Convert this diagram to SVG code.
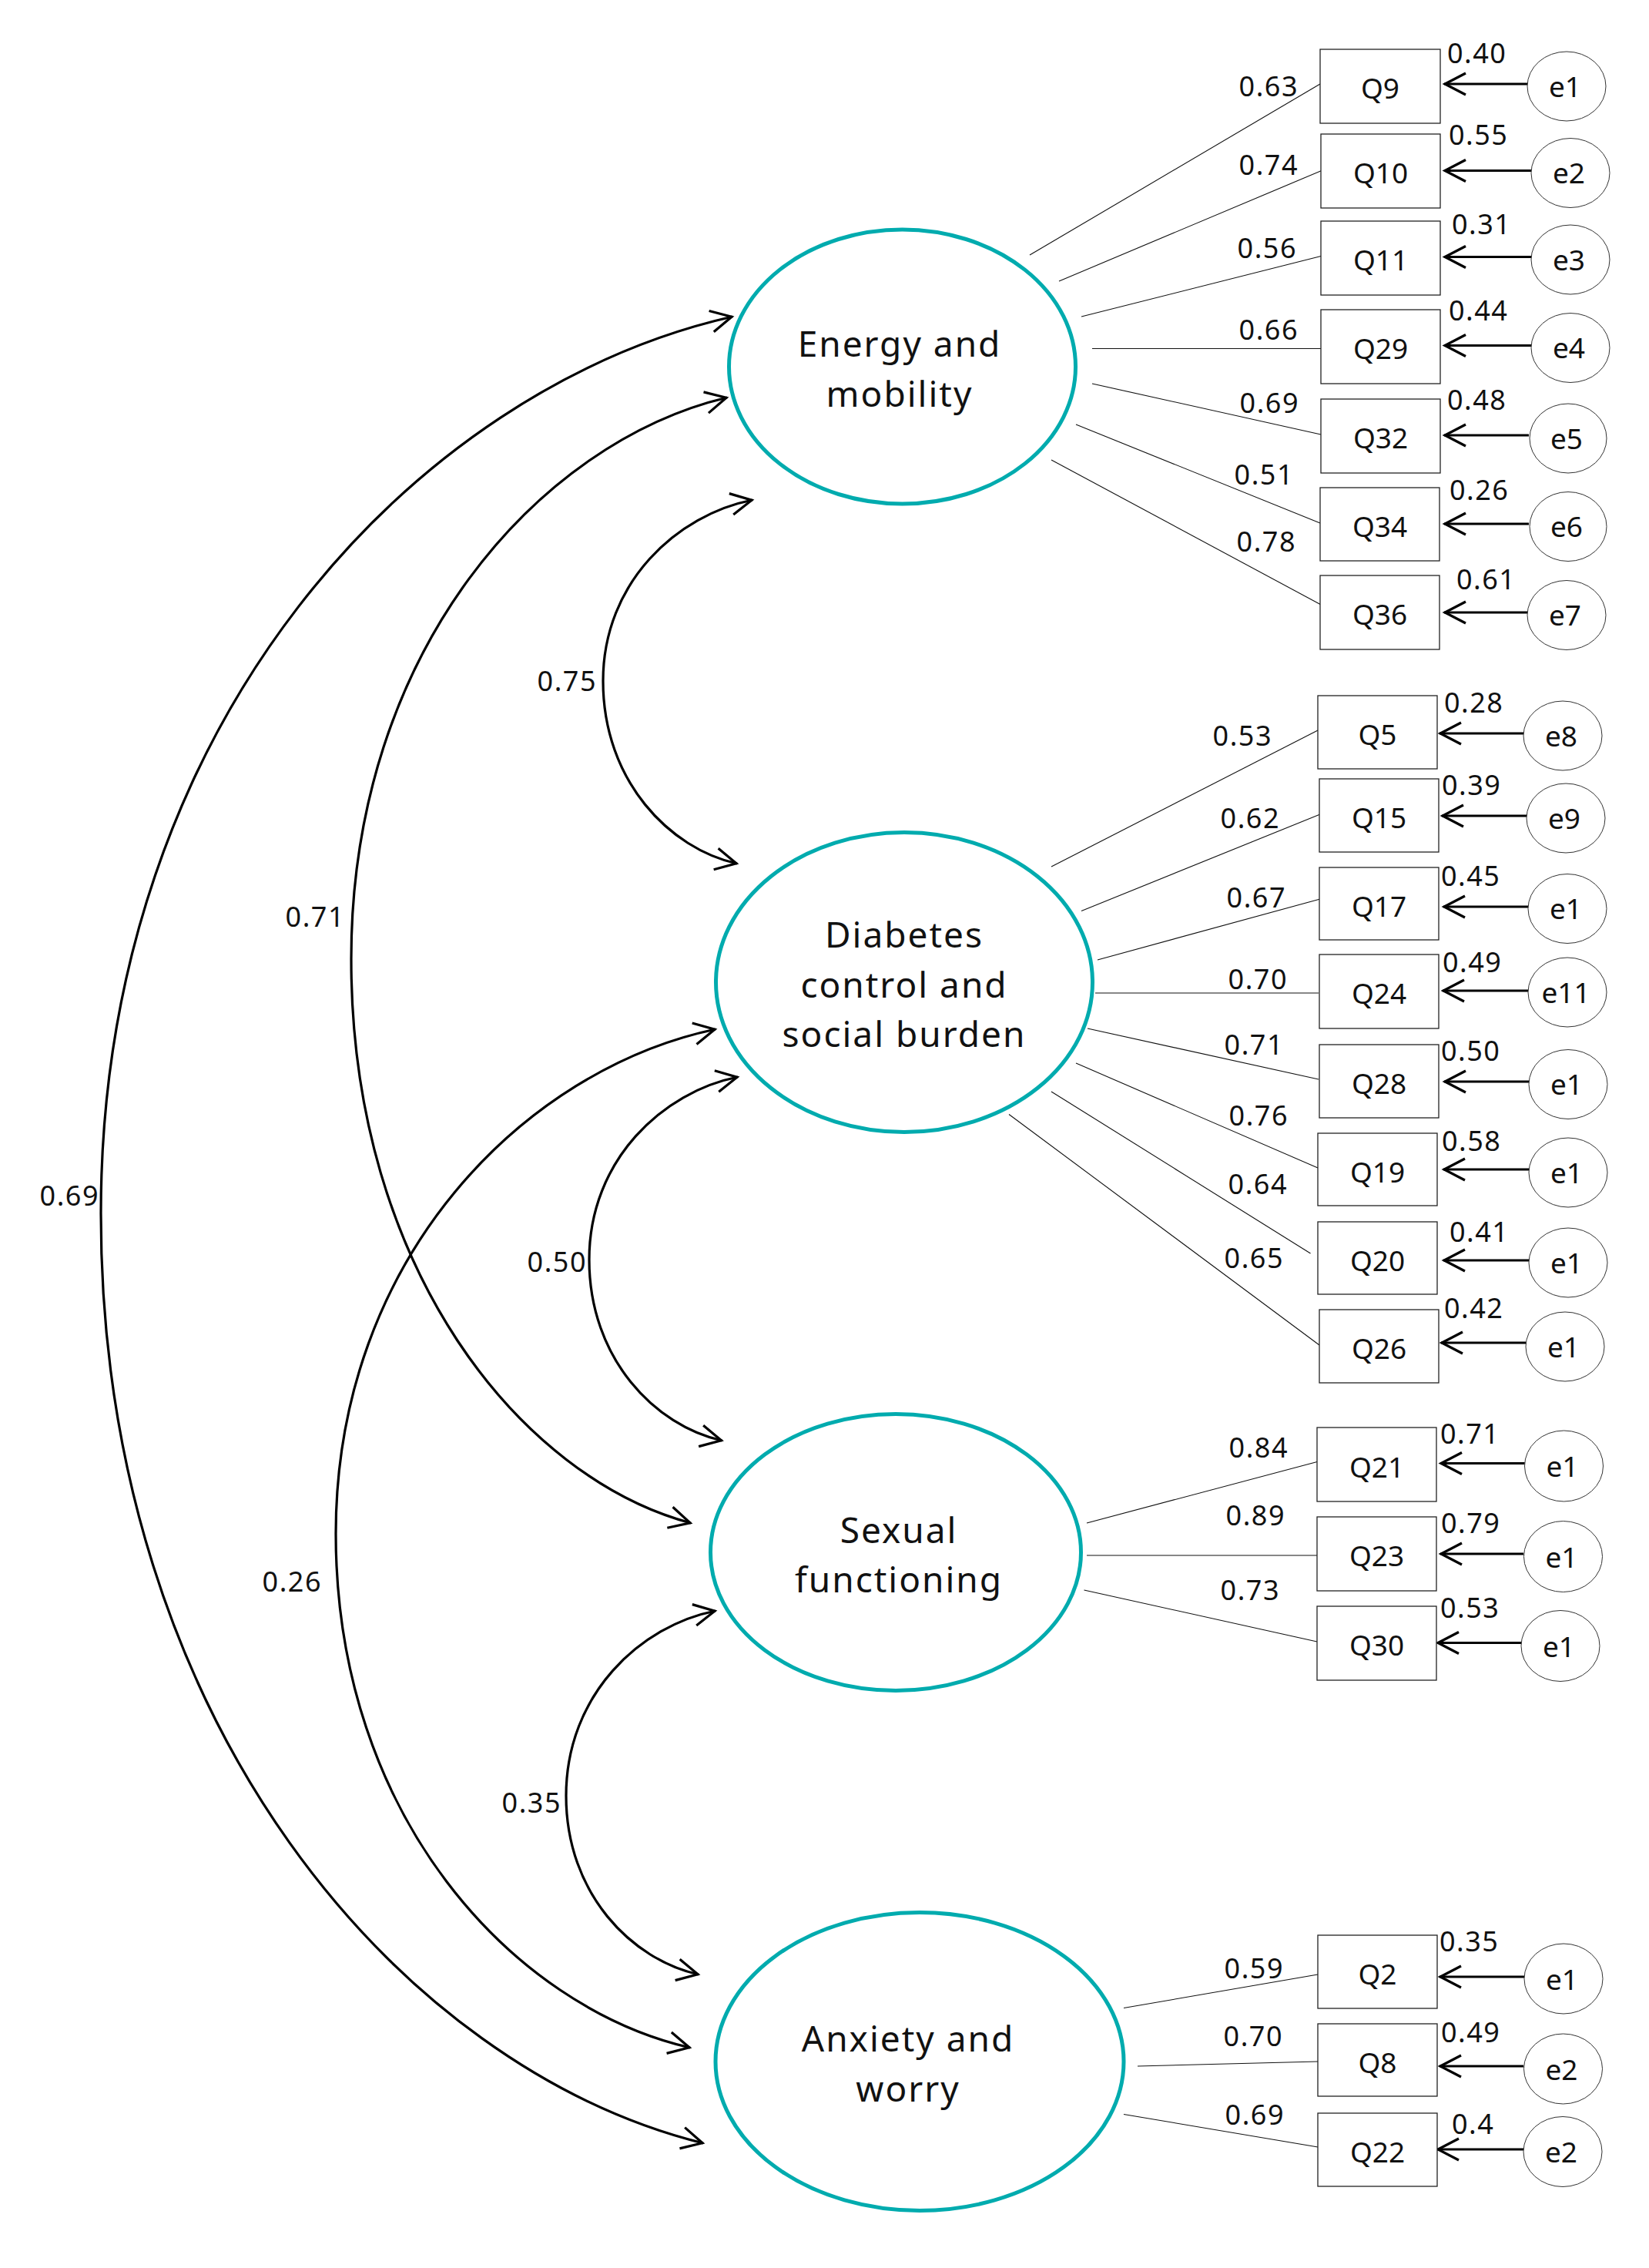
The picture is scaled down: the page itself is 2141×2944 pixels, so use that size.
<svg xmlns="http://www.w3.org/2000/svg" width="2141" height="2944" viewBox="0 0 2141 2944">
<style>
text{font-family:"Noto Sans","Open Sans","Liberation Sans",sans-serif;fill:#111}
.lat{fill:#fff;stroke:#00ABAE;stroke-width:5}
.lt{font-size:46px;letter-spacing:2px;text-anchor:middle}
.box{fill:#fff;stroke:#222;stroke-width:1.3}
.bt{font-size:37px;text-anchor:middle}
.err{fill:#fff;stroke:#333;stroke-width:1}
.et{font-size:37px;text-anchor:middle}
.num{font-size:36px;letter-spacing:1.5px}
.r{text-anchor:end}
.load{stroke:#111;stroke-width:1.1;fill:none}
.earr{stroke:#000;stroke-width:3.2;fill:none;marker-end:url(#ah)}
.cov{stroke:#000;stroke-width:3.2;fill:none;marker-start:url(#ah);marker-end:url(#ah)}
</style>
<defs>
<marker id="ah" viewBox="-32 -20 40 40" markerWidth="40" markerHeight="40" refX="1" refY="0" orient="auto-start-reverse" markerUnits="userSpaceOnUse">
<path d="M-27,-14 L0,0 L-27,14" fill="none" stroke="#000" stroke-width="3.2"/>
</marker>
</defs>
<rect width="2141" height="2944" fill="#fff"/>

<g id="connectors">
<!-- covariance arcs -->
<path class="cov" d="M951,411 C541,504 131,935 131,1575 C131,2239 522,2685 913,2782"/>
<path class="cov" d="M944,516 C700,574 456,844 456,1245 C456,1648 676.5,1918 897,1977"/>
<path class="cov" d="M977,649 C880,668 783,755 783,884 C783,1014 870,1102 957,1121"/>
<path class="cov" d="M929,1336 C682.5,1388 436,1631 436,1991 C436,2358 666,2605 896,2658"/>
<path class="cov" d="M958,1398 C861.5,1417 765,1505 765,1635 C765,1764 851,1851 937.5,1870"/>
<path class="cov" d="M929,2091 C832,2110 735,2199 735,2331 C735,2459 821,2544 907,2563"/>
<!-- loadings: Energy and mobility -->
<line class="load" x1="1337" y1="331" x2="1714" y2="109"/>
<line class="load" x1="1375" y1="365" x2="1717" y2="221"/>
<line class="load" x1="1404" y1="411" x2="1717" y2="332"/>
<line class="load" x1="1418" y1="452.5" x2="1715" y2="452.5"/>
<line class="load" x1="1418" y1="498" x2="1715" y2="564"/>
<line class="load" x1="1397" y1="551" x2="1714" y2="679"/>
<line class="load" x1="1365" y1="597" x2="1717" y2="786"/>
<!-- loadings: Diabetes -->
<line class="load" x1="1365" y1="1125" x2="1711" y2="948"/>
<line class="load" x1="1404" y1="1182.5" x2="1714" y2="1057"/>
<line class="load" x1="1425" y1="1246" x2="1714" y2="1167"/>
<line class="load" x1="1422" y1="1289" x2="1712" y2="1289"/>
<line class="load" x1="1412" y1="1335" x2="1712" y2="1401"/>
<line class="load" x1="1397" y1="1380" x2="1711" y2="1516"/>
<line class="load" x1="1365" y1="1417" x2="1701.5" y2="1627"/>
<line class="load" x1="1310" y1="1446.5" x2="1713" y2="1746"/>
<!-- loadings: Sexual -->
<line class="load" x1="1411" y1="1977" x2="1712" y2="1897"/>
<line class="load" x1="1411" y1="2019" x2="1710" y2="2019"/>
<line class="load" x1="1407.5" y1="2064" x2="1710" y2="2131"/>
<!-- loadings: Anxiety -->
<line class="load" x1="1459" y1="2606.5" x2="1711" y2="2563"/>
<line class="load" x1="1477" y1="2682" x2="1711" y2="2676"/>
<line class="load" x1="1459" y1="2744.5" x2="1711" y2="2787"/>
<!-- error arrows -->
<line class="earr" x1="1983" y1="109" x2="1875" y2="109"/>
<line class="earr" x1="1988" y1="221.5" x2="1875" y2="221.5"/>
<line class="earr" x1="1988" y1="333.5" x2="1875" y2="333.5"/>
<line class="earr" x1="1988" y1="448.5" x2="1875" y2="448.5"/>
<line class="earr" x1="1985" y1="565" x2="1875" y2="565"/>
<line class="earr" x1="1985" y1="680" x2="1875" y2="680"/>
<line class="earr" x1="1983" y1="795" x2="1875" y2="795"/>
<line class="earr" x1="1978" y1="952" x2="1869" y2="952"/>
<line class="earr" x1="1982" y1="1059" x2="1872" y2="1059"/>
<line class="earr" x1="1984" y1="1177" x2="1874" y2="1177"/>
<line class="earr" x1="1984" y1="1286" x2="1873" y2="1286"/>
<line class="earr" x1="1985" y1="1404" x2="1875" y2="1404"/>
<line class="earr" x1="1985" y1="1518" x2="1874" y2="1518"/>
<line class="earr" x1="1985" y1="1636" x2="1874" y2="1636"/>
<line class="earr" x1="1981" y1="1743" x2="1871" y2="1743"/>
<line class="earr" x1="1980" y1="1899.5" x2="1870" y2="1899.5"/>
<line class="earr" x1="1978" y1="2017" x2="1870" y2="2017"/>
<line class="earr" x1="1975" y1="2132.5" x2="1866" y2="2132.5"/>
<line class="earr" x1="1979" y1="2566" x2="1869" y2="2566"/>
<line class="earr" x1="1978" y1="2682" x2="1869" y2="2682"/>
<line class="earr" x1="1978" y1="2790" x2="1866" y2="2790"/>
</g>

<g id="connector-labels">
<!-- covariances -->
<text class="num r" x="129" y="1565">0.69</text>
<text class="num r" x="448" y="1203">0.71</text>
<text class="num r" x="775" y="897">0.75</text>
<text class="num r" x="762" y="1651">0.50</text>
<text class="num r" x="418" y="2066">0.26</text>
<text class="num r" x="729" y="2353">0.35</text>
<!-- loadings -->
<text class="num r" x="1686" y="125">0.63</text>
<text class="num r" x="1686" y="227">0.74</text>
<text class="num r" x="1684" y="335">0.56</text>
<text class="num r" x="1686" y="441">0.66</text>
<text class="num r" x="1687" y="536">0.69</text>
<text class="num r" x="1680" y="629">0.51</text>
<text class="num r" x="1683" y="716">0.78</text>
<text class="num r" x="1652" y="968">0.53</text>
<text class="num r" x="1662" y="1075">0.62</text>
<text class="num r" x="1670" y="1178">0.67</text>
<text class="num r" x="1672" y="1284">0.70</text>
<text class="num r" x="1667" y="1369">0.71</text>
<text class="num r" x="1673" y="1461">0.76</text>
<text class="num r" x="1672" y="1550">0.64</text>
<text class="num r" x="1667" y="1646">0.65</text>
<text class="num r" x="1673" y="1892">0.84</text>
<text class="num r" x="1669" y="1980">0.89</text>
<text class="num r" x="1662" y="2077">0.73</text>
<text class="num r" x="1667" y="2568">0.59</text>
<text class="num r" x="1666" y="2656">0.70</text>
<text class="num r" x="1668" y="2758">0.69</text>
<!-- residuals -->
<text class="num" x="1879" y="82">0.40</text>
<text class="num" x="1881" y="188">0.55</text>
<text class="num" x="1885" y="304">0.31</text>
<text class="num" x="1881" y="416">0.44</text>
<text class="num" x="1879" y="532">0.48</text>
<text class="num" x="1882" y="649">0.26</text>
<text class="num" x="1891" y="765">0.61</text>
<text class="num" x="1875" y="925">0.28</text>
<text class="num" x="1872" y="1032">0.39</text>
<text class="num" x="1871" y="1150">0.45</text>
<text class="num" x="1873" y="1262">0.49</text>
<text class="num" x="1871" y="1377">0.50</text>
<text class="num" x="1872" y="1494">0.58</text>
<text class="num" x="1882" y="1612">0.41</text>
<text class="num" x="1875" y="1711">0.42</text>
<text class="num" x="1870" y="1874">0.71</text>
<text class="num" x="1871" y="1990">0.79</text>
<text class="num" x="1870" y="2100">0.53</text>
<text class="num" x="1869" y="2533">0.35</text>
<text class="num" x="1871" y="2651">0.49</text>
<text class="num" x="1885" y="2770">0.4</text>
</g>

<!-- latent factors -->
<g id="energy-mobility">
<ellipse class="lat" cx="1171.5" cy="476" rx="225" ry="178"/>
<text class="lt" x="1168" y="463">Energy and</text>
<text class="lt" x="1168" y="528">mobility</text>
</g>
<g id="diabetes-control">
<ellipse class="lat" cx="1174" cy="1275" rx="244.5" ry="194.5"/>
<text class="lt" x="1174" y="1230">Diabetes</text>
<text class="lt" x="1174" y="1295">control and</text>
<text class="lt" x="1174" y="1359">social burden</text>
</g>
<g id="sexual-functioning">
<ellipse class="lat" cx="1163" cy="2015" rx="240.5" ry="179.5"/>
<text class="lt" x="1167" y="2003">Sexual</text>
<text class="lt" x="1167" y="2067">functioning</text>
</g>
<g id="anxiety-worry">
<ellipse class="lat" cx="1194" cy="2676" rx="265" ry="193.5"/>
<text class="lt" x="1179" y="2663">Anxiety and</text>
<text class="lt" x="1179" y="2728">worry</text>
</g>

<!-- observed items -->
<g id="Q9"><rect class="box" x="1714" y="64" width="156" height="96"/><text class="bt" x="1792" y="128">Q9</text></g>
<g id="Q10"><rect class="box" x="1715" y="174" width="155" height="96"/><text class="bt" x="1792.5" y="238">Q10</text></g>
<g id="Q11"><rect class="box" x="1715" y="287" width="155" height="96"/><text class="bt" x="1792.5" y="351">Q11</text></g>
<g id="Q29"><rect class="box" x="1715" y="402" width="155" height="96"/><text class="bt" x="1792.5" y="466">Q29</text></g>
<g id="Q32"><rect class="box" x="1715" y="518" width="155" height="96"/><text class="bt" x="1792.5" y="582">Q32</text></g>
<g id="Q34"><rect class="box" x="1714" y="633" width="155" height="95"/><text class="bt" x="1791.5" y="697">Q34</text></g>
<g id="Q36"><rect class="box" x="1714" y="747" width="155" height="96"/><text class="bt" x="1791.5" y="811">Q36</text></g>

<g id="Q5"><rect class="box" x="1711" y="903" width="155" height="95"/><text class="bt" x="1788.5" y="967">Q5</text></g>
<g id="Q15"><rect class="box" x="1713" y="1011" width="155" height="95"/><text class="bt" x="1790.5" y="1075">Q15</text></g>
<g id="Q17"><rect class="box" x="1713" y="1126" width="155" height="94"/><text class="bt" x="1790.5" y="1190">Q17</text></g>
<g id="Q24"><rect class="box" x="1713" y="1239" width="155" height="96"/><text class="bt" x="1790.5" y="1303">Q24</text></g>
<g id="Q28"><rect class="box" x="1713" y="1356" width="155" height="95"/><text class="bt" x="1790.5" y="1420">Q28</text></g>
<g id="Q19"><rect class="box" x="1711" y="1471" width="155" height="94"/><text class="bt" x="1788.5" y="1535">Q19</text></g>
<g id="Q20"><rect class="box" x="1711" y="1586" width="155" height="94"/><text class="bt" x="1788.5" y="1650">Q20</text></g>
<g id="Q26"><rect class="box" x="1713" y="1700" width="155" height="95"/><text class="bt" x="1790.5" y="1764">Q26</text></g>

<g id="Q21"><rect class="box" x="1710" y="1853" width="155" height="96"/><text class="bt" x="1787.5" y="1918">Q21</text></g>
<g id="Q23"><rect class="box" x="1710" y="1969" width="155" height="96"/><text class="bt" x="1787.5" y="2033">Q23</text></g>
<g id="Q30"><rect class="box" x="1710" y="2085" width="155" height="96"/><text class="bt" x="1787.5" y="2149">Q30</text></g>

<g id="Q2"><rect class="box" x="1711" y="2512" width="155" height="95"/><text class="bt" x="1788.5" y="2576">Q2</text></g>
<g id="Q8"><rect class="box" x="1711" y="2627" width="155" height="94"/><text class="bt" x="1788.5" y="2691">Q8</text></g>
<g id="Q22"><rect class="box" x="1711" y="2743" width="155" height="95"/><text class="bt" x="1788.5" y="2807">Q22</text></g>

<!-- error terms -->
<g id="err-Q9"><ellipse class="err" cx="2034" cy="112" rx="51" ry="45"/><text class="et" x="2032" y="126">e1</text></g>
<g id="err-Q10"><ellipse class="err" cx="2039" cy="224.5" rx="51" ry="45"/><text class="et" x="2037" y="238">e2</text></g>
<g id="err-Q11"><ellipse class="err" cx="2039" cy="337" rx="51" ry="45"/><text class="et" x="2037" y="351">e3</text></g>
<g id="err-Q29"><ellipse class="err" cx="2039" cy="451.5" rx="51" ry="45"/><text class="et" x="2037" y="465">e4</text></g>
<g id="err-Q32"><ellipse class="err" cx="2036" cy="569" rx="50" ry="45"/><text class="et" x="2034" y="583">e5</text></g>
<g id="err-Q34"><ellipse class="err" cx="2036" cy="683.5" rx="50" ry="45"/><text class="et" x="2034" y="697">e6</text></g>
<g id="err-Q36"><ellipse class="err" cx="2034" cy="798.5" rx="51" ry="45"/><text class="et" x="2032" y="812">e7</text></g>

<g id="err-Q5"><ellipse class="err" cx="2029" cy="955" rx="51" ry="45"/><text class="et" x="2027" y="969">e8</text></g>
<g id="err-Q15"><ellipse class="err" cx="2033" cy="1062" rx="51" ry="45"/><text class="et" x="2031" y="1076">e9</text></g>
<g id="err-Q17"><ellipse class="err" cx="2035" cy="1179.5" rx="51" ry="45"/><text class="et" x="2033" y="1193">e1</text></g>
<g id="err-Q24"><ellipse class="err" cx="2035" cy="1288" rx="51" ry="45"/><text class="et" x="2033" y="1302">e11</text></g>
<g id="err-Q28"><ellipse class="err" cx="2036" cy="1407.5" rx="51" ry="45"/><text class="et" x="2034" y="1421">e1</text></g>
<g id="err-Q19"><ellipse class="err" cx="2036" cy="1522" rx="51" ry="45"/><text class="et" x="2034" y="1536">e1</text></g>
<g id="err-Q20"><ellipse class="err" cx="2036" cy="1639" rx="51" ry="45"/><text class="et" x="2034" y="1653">e1</text></g>
<g id="err-Q26"><ellipse class="err" cx="2032" cy="1748" rx="51" ry="45"/><text class="et" x="2030" y="1762">e1</text></g>

<g id="err-Q21"><ellipse class="err" cx="2030.5" cy="1903" rx="51" ry="46"/><text class="et" x="2028.5" y="1917">e1</text></g>
<g id="err-Q23"><ellipse class="err" cx="2029.5" cy="2020.5" rx="51" ry="46"/><text class="et" x="2027.5" y="2035">e1</text></g>
<g id="err-Q30"><ellipse class="err" cx="2026" cy="2136.5" rx="51" ry="46"/><text class="et" x="2024" y="2151">e1</text></g>

<g id="err-Q2"><ellipse class="err" cx="2030" cy="2568.5" rx="51" ry="45.5"/><text class="et" x="2028" y="2583">e1</text></g>
<g id="err-Q8"><ellipse class="err" cx="2029.5" cy="2685.5" rx="51" ry="45.5"/><text class="et" x="2027.5" y="2700">e2</text></g>
<g id="err-Q22"><ellipse class="err" cx="2029" cy="2793" rx="51" ry="45.5"/><text class="et" x="2027" y="2807">e2</text></g>
</svg>
